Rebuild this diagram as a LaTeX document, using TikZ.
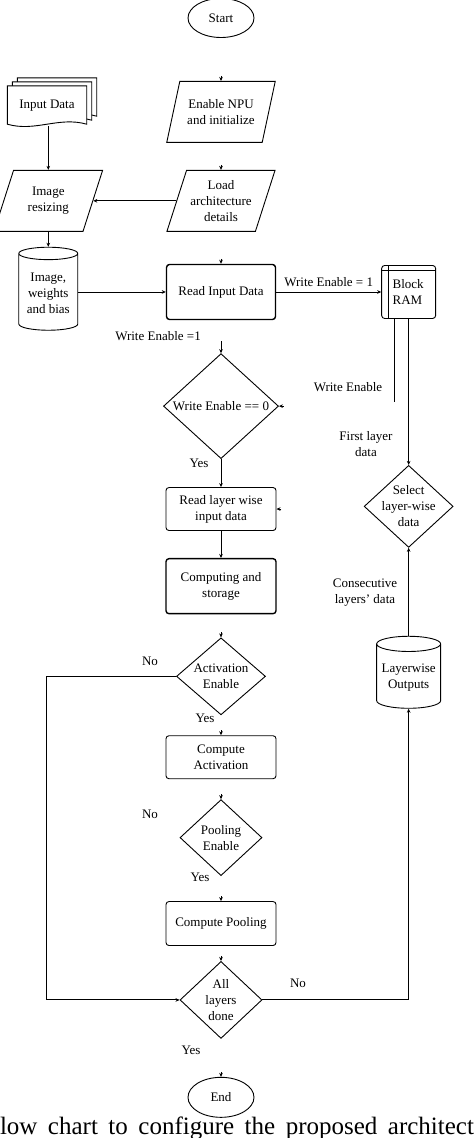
\documentclass[tikz,border=0pt]{standalone}
\usepackage{fontspec}
\setmainfont{Liberation Serif}
\usetikzlibrary{positioning, arrows.meta, shapes.geometric}
\newcommand{\lbl}{\fontsize{13}{16}\selectfont}

\begin{document}
\begin{tikzpicture}[
	x=1pt,
	y=1pt,
	base/.style={draw, line width=0.9pt, font=\lbl, align=center},
	terminal/.style={base, ellipse, minimum width=66pt, minimum height=39pt, inner sep=0pt},
	io/.style={base, trapezium, trapezium left angle=67, trapezium right angle=113, trapezium stretches=true, minimum width=109pt, minimum height=61pt, inner sep=0pt},
	process/.style={base, rectangle, rounded corners=3pt, minimum width=110pt, minimum height=43pt},
	heavy/.style={process, line width=1.4pt, minimum height=55pt},
	decision/.style={base, diamond, aspect=1.1, inner sep=-4pt},
	storage/.style={base, cylinder, shape border rotate=90, aspect=0.25},
	note/.style={font=\lbl, align=center, inner sep=1pt},
	arrowline/.style={draw, line width=0.9pt, -{Stealth[length=4pt, width=3.6pt]}},
	>=stealth
]
\useasboundingbox (0,0) rectangle (474,-1138);

% main column
\node[terminal] (start) at (221,-18) {Start};
\node[io, below=43pt of start] (enable) {Enable NPU\\and initialize};
\node[io, below=27pt of enable] (load) {Load\\architecture\\details};
\node[heavy, below=32pt of load, minimum width=109pt] (readin) {Read Input Data};
\node[decision, below=33pt of readin, minimum width=115pt, minimum height=105pt] (wezero) {Write Enable == 0};
\node[process, below=28pt of wezero] (readlayer) {Read layer wise\\input data};
\node[heavy, below=27pt of readlayer] (compstore) {Computing and\\storage};
\node[decision, below=23pt of compstore, minimum width=89pt, minimum height=77pt] (actdec) {Activation\\Enable};
\node[process, below=20pt of actdec] (compact) {Compute\\Activation};
\node[decision, below=20pt of compact, minimum width=82pt, minimum height=76pt] (pooldec) {Pooling\\Enable};
\node[process, below=25pt of pooldec, minimum height=44pt] (comppool) {Compute Pooling};
\node[decision, below=15pt of comppool, minimum width=82pt, minimum height=77pt] (alldec) {All\\layers\\done};
\node[terminal, below=38pt of alldec, minimum height=40pt] (stop) {End};

% left column
\node[io, left=83pt of load] (resize) {Image\\resizing};
\node[storage, below=15pt of resize, minimum width=59pt, minimum height=83pt] (imgdata) {Image,\\weights\\and bias};
\node[font=\lbl, minimum width=79pt, minimum height=40pt, inner sep=0pt] (input) at (47,-106) {};
\foreach \dx/\dy in {10/8, 5/4, 0/0}
	\draw[line width=0.9pt, fill=white] ([xshift=\dx pt, yshift=\dy pt]input.north west) -- ([xshift=\dx pt, yshift=\dy pt]input.north east)
		-- ([xshift=\dx pt, yshift=\dy pt+2pt]input.south east)
		.. controls ([xshift=\dx pt-28pt, yshift=\dy pt+10pt]input.south east) and ([xshift=\dx pt+28pt, yshift=\dy pt-6pt]input.south west)
		.. ([xshift=\dx pt, yshift=\dy pt+2pt]input.south west) -- cycle;
\node[font=\lbl] at (input) {Input Data};

% right column
\node[base, rounded corners=3pt, minimum width=54pt, minimum height=53pt, text width=32pt, align=left, inner sep=0pt, right=105pt of readin] (bram) {Block\\RAM};
\draw[line width=0.9pt] ([xshift=7pt]bram.north west) -- ([xshift=7pt]bram.south west);
\draw[line width=0.9pt] ([yshift=-5pt]bram.north west) -- ([yshift=-5pt]bram.north east);
\node[decision, inner sep=-8pt, minimum width=89pt, minimum height=82pt, below=146pt of bram] (select) {Select\\layer-wise\\data};
\node[storage, below=88pt of select, minimum width=64pt, minimum height=72pt] (layerwise) {Layerwise\\Outputs};
\coordinate (weend) at (394,-402);
\coordinate (loopx) at (46,-671);

% connectors
\draw[arrowline] (input.south -| resize.north) -- (resize.north);
\draw[arrowline] (load.west) -- (resize.east);
\draw[arrowline] (resize.south) -- (imgdata.north);
\draw[arrowline] (readin.west -| imgdata.east) -- (readin.west);
\draw[arrowline] (readin.east) -- (bram.west) node[midway, above=4pt, note] {Write Enable = 1};
\draw[line width=0.9pt] (bram.south -| weend) -- (weend);
\draw[arrowline] (bram.south) -- (select.north);
\draw[arrowline] (layerwise.north) -- (select.south);
\draw[arrowline] (alldec.east) -| (layerwise.south);
\draw[arrowline] (actdec.west) -- (actdec.west -| loopx) -- (loopx |- alldec.west) -- (alldec.west);
\draw[arrowline] (wezero.south) -- (readlayer.north);
\draw[arrowline] (readlayer.south) -- (compstore.north);
\draw[arrowline] ([yshift=12pt]wezero.north) -- (wezero.north);

% loose arrow heads
\draw[arrowline] ([yshift=5pt]enable.north) -- (enable.north);
\draw[arrowline] ([yshift=5pt]load.north) -- (load.north);
\draw[arrowline] ([yshift=5pt]readin.north) -- (readin.north);
\draw[arrowline] ([xshift=5pt]wezero.east) -- (wezero.east);
\draw[arrowline] ([xshift=5pt]readlayer.east) -- (readlayer.east);
\draw[arrowline] ([yshift=5pt]actdec.north) -- (actdec.north);
\draw[arrowline] ([yshift=5pt]compact.north) -- (compact.north);
\draw[arrowline] ([yshift=5pt]pooldec.north) -- (pooldec.north);
\draw[arrowline] ([yshift=5pt]comppool.north) -- (comppool.north);
\draw[arrowline] ([yshift=5pt]alldec.north) -- (alldec.north);
\draw[arrowline] ([yshift=5pt]stop.north) -- (stop.north);

% labels
\node[note] (lwe1) at (158,-336) {Write Enable =1};
\node[note] (lwe) at (348,-387) {Write Enable};
\node[note] (lfirst) at (366,-444) {First layer\\data};
\node[note] (lcons) at (365,-593) {Consecutive\\layers' data};
\node[note] (lyes1) at (199,-463) {Yes};
\node[note] (lno1) at (150,-661) {No};
\node[note] (lyes2) at (205,-718) {Yes};
\node[note] (lno2) at (150,-814) {No};
\node[note] (lyes3) at (200,-877) {Yes};
\node[note] (lno3) at (298,-983) {No};
\node[note] (lyes4) at (191,-1050) {Yes};

\node[anchor=base, inner sep=0pt, font=\fontsize{25}{25}\selectfont] (caption) at (237,-1134) {\makebox[474pt][s]{low chart to configure the proposed architect}};

\end{tikzpicture}
\end{document}
